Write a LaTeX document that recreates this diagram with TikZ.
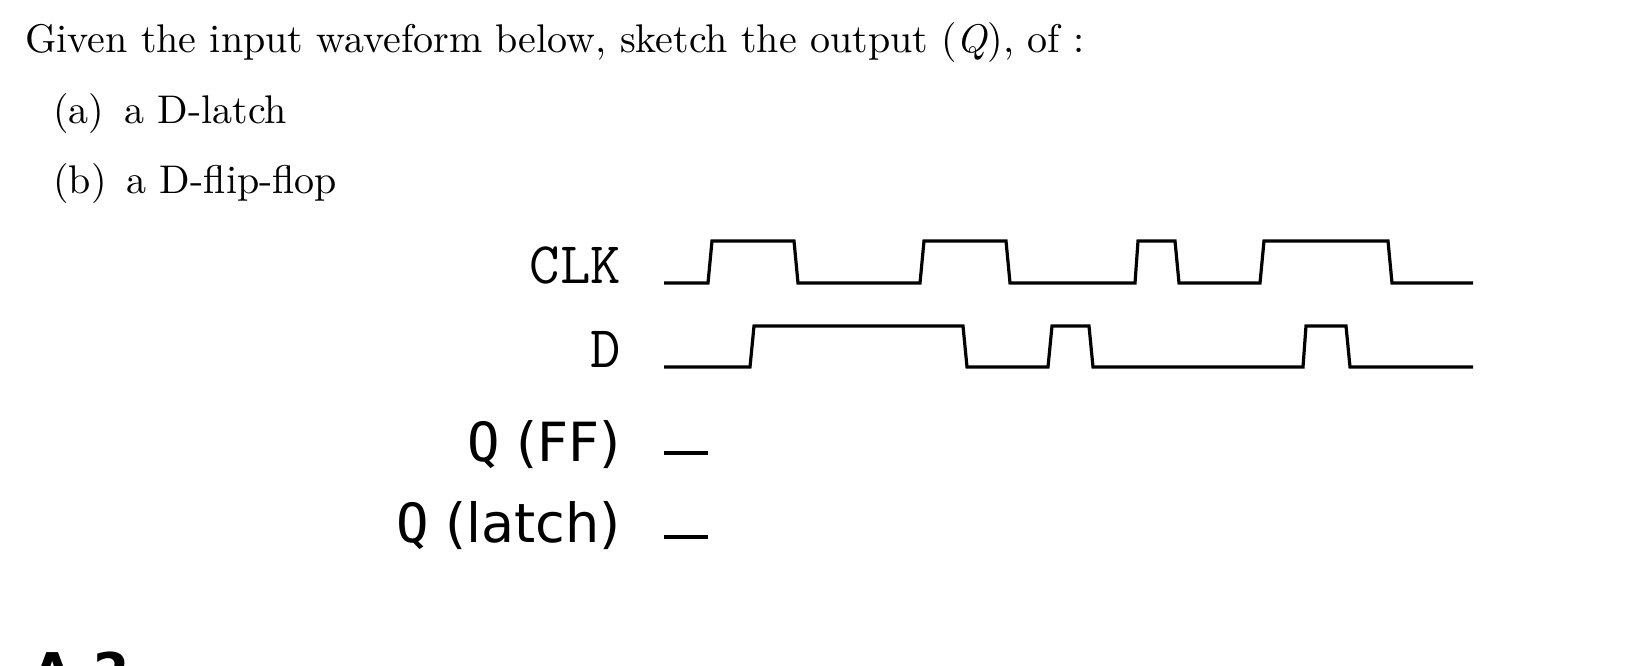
\documentclass[tikz,border=0pt]{standalone}
\usepackage{fontspec}
\newfontfamily\dvm{DejaVu Sans Mono}
\newfontfamily\dvs{DejaVu Sans}
\newfontfamily\lmten{lmroman10-regular.otf}[ItalicFont=lmroman10-italic.otf]
\begin{document}
\begin{tikzpicture}[x=1pt,y=-1pt,
  wave/.style={line width=3.2pt,line join=miter},
  lbl/.style={anchor=base east,inner sep=0pt},
  txt/.style={anchor=base west,inner sep=0pt,font=\lmten\fontsize{40}{48}\selectfont}]
\useasboundingbox (0,0) rectangle (1630,666);
\node[txt] (title) at (25,53) {Given the input waveform below, sketch the output ({\itshape Q}), of :};
\node[txt] (ia) at (53,124) {(a)\hspace{0.5em}a D-latch};
\node[txt] (ib) at (53,193) {(b)\hspace{0.5em}a D-flip-flop};
\node[lbl,font=\fontsize{59}{60}\ttfamily] (clk) at (621,283) {CLK};
\node[lbl,font=\fontsize{59}{60}\ttfamily] (d) at (621,367) {D};
\node[lbl,font=\fontsize{54}{60}\selectfont] (qff) at (621,461) {{\dvm Q} {\dvs(FF)}};
\node[lbl,font=\fontsize{54}{60}\selectfont] (ql) at (621,542) {{\dvm Q} {\dvs(latch)}};
\draw[wave] (664,283) -- (708,283) -- (712,241) -- (794,241) -- (798,283) -- (920,283) -- (924,241) -- (1006,241) -- (1010,283) -- (1135,283) -- (1138,241) -- (1175,241) -- (1179,283) -- (1260,283) -- (1264,241) -- (1388,241) -- (1392,283) -- (1473,283);
\draw[wave] (664,367) -- (750,367) -- (754,326) -- (963,326) -- (967,367) -- (1048,367) -- (1052,326) -- (1089,326) -- (1093,367) -- (1303,367) -- (1306,326) -- (1346,326) -- (1350,367) -- (1473,367);
\draw[wave] (664,453) -- (708,453);
\draw[wave] (664,537) -- (708,537);
\begin{scope}
\clip (0,0) rectangle (1630,666);
\node[anchor=north west,inner sep=0pt,font=\fontsize{52}{52}\dvs\bfseries] (a2) at (32,652) {A.2};
\end{scope}
\end{tikzpicture}
\end{document}
